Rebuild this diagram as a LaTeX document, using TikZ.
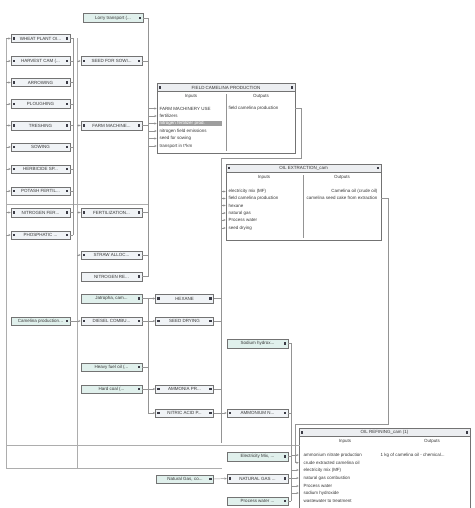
\documentclass[tikz,border=0pt]{standalone}
\usepackage{fontspec}
\setmainfont{Liberation Sans}
\usetikzlibrary{arrows.meta}
\definecolor{procfill}{RGB}{240,243,246}
\definecolor{greenfill}{RGB}{224,240,236}
\definecolor{hdrfill}{RGB}{236,238,241}
\definecolor{iconc}{RGB}{60,60,70}
\begin{document}
\begin{tikzpicture}[x=1pt,y=-1pt,
  every node/.style={font=\fontsize{4.5}{5}\selectfont, text=black!78},
  ln/.style={draw=black!42, line width=0.45pt},
  gridln/.style={draw=black!32, line width=0.8pt},
  arr/.style={ln, -{Stealth[length=2.4pt,width=2.2pt]}},
  box/.style={draw=black!55, line width=0.5pt, minimum height=8.5pt, inner sep=0pt, fill=procfill},
  iconsLR/.style={path picture={
     \fill[iconc] ([xshift=1.6pt,yshift=-1.35pt]path picture bounding box.west) rectangle ([xshift=4.3pt,yshift=1.35pt]path picture bounding box.west);
     \fill[iconc] ([xshift=-1.6pt,yshift=-1.35pt]path picture bounding box.east) rectangle ([xshift=-4.3pt,yshift=1.35pt]path picture bounding box.east);}},
  iconR/.style={path picture={
     \fill[iconc] ([xshift=-1.6pt,yshift=-1.35pt]path picture bounding box.east) rectangle ([xshift=-4.3pt,yshift=1.35pt]path picture bounding box.east);}},
  proc/.style={box, iconsLR, minimum width=#1}, proc/.default=59,
  gbox/.style={box, fill=greenfill, iconR, minimum width=#1}, gbox/.default=59,
  tbl/.style={draw=black!55, fill=white, line width=0.5pt, inner sep=0pt},
  rowin/.style={anchor=west, inner sep=0.3pt},
  rowout/.style={anchor=east, inner sep=0.3pt},
]
\useasboundingbox (0,0) rectangle (474,508);
\clip (0,0) rectangle (474,508);

% ---------- left column ----------
\node[proc] (wheat) at (40.5,38.5) {WHEAT PLANT OI...};
\node[proc] (harvest) at (40.5,61) {HARVEST CAM (...};
\node[proc] (harrow) at (40.5,82.5) {ARROWING};
\node[proc] (plough) at (40.5,104) {PLOUGHING};
\node[proc] (thresh) at (40.5,125.5) {TRESHING};
\node[proc] (sowing) at (40.5,147) {SOWING};
\node[proc] (herbi) at (40.5,169) {HERBICIDE SP...};
\node[proc] (potash) at (40.5,191) {POTASH FERTIL...};
\node[proc] (nitfer) at (40.5,212.5) {NITROGEN FER...};
\node[proc] (phosph) at (40.5,235) {PHOSPHATIC ...};
\node[gbox] (camprod) at (40.5,321) {Camelina production...};

% ---------- middle column ----------
\node[gbox=60] (lorry) at (113,18) {Lorry transport (...};
\node[proc=61] (seed) at (111.5,61) {SEED FOR SOWI...};
\node[proc=61] (farm) at (111.5,125.5) {FARM MACHINE...};
\node[proc=61] (fert) at (111.5,212.5) {FERTILIZATION...};
\node[proc=61] (straw) at (111.5,255) {STRAW ALLOC...};
\node[box,iconR,minimum width=61] (nitre) at (111.5,276.5) {NITROGEN RE...};
\node[gbox=61] (jatro) at (111.5,298.5) {Jatropha, cam...};
\node[proc=61] (diesel) at (111.5,321) {DIESEL COMBU...};
\node[gbox=61] (heavy) at (111.5,367) {Heavy fuel oil (...};
\node[gbox=61] (coal) at (111.5,389) {Hard coal (...};

% ---------- third column ----------
\node[proc=58] (hexane) at (184.5,298.5) {HEXANE};
\node[proc=58] (sdry) at (184.5,321) {SEED DRYING};
\node[proc=58] (ammpr) at (184.5,389) {AMMONIA PR...};
\node[proc=58] (nitric) at (184.5,413) {NITRIC ACID P...};
\node[gbox=57] (ngco) at (185,479) {Natural Gas, co...};

% ---------- fourth column ----------
\node[gbox=61] (naoh) at (257.5,343.5) {Sodium hydrox...};
\node[proc=61] (ammon) at (257.5,413) {AMMONIUM N...};
\node[gbox=61] (elec) at (257.5,456.5) {Electricity Mix, ...};
\node[proc=61] (ngas) at (257.5,478.5) {NATURAL GAS ...};
\node[gbox=61] (pwater) at (257.5,501) {Process water ...};

% ---------- FIELD CAMELINA PRODUCTION ----------
\node[tbl, minimum width=138, minimum height=70] (field) at (226,118) {};
\node[box, fill=hdrfill, iconsLR, minimum width=138] (fieldh) at (226,87.5) {FIELD CAMELINA PRODUCTION};
\node (fieldin) at (191,96.5) {Inputs};
\node (fieldout) at (261,96.5) {Outputs};
\draw[ln] (226,94.5) -- (226,151);
\node[rowin] (fi1) at (159,108.5) {FARM MACHINERY USE};
\node[rowin] (fi2) at (159,116) {fertilizers};
\node[rowin, fill=black!38, text=white, text width=62, align=left] (fi3) at (159,123.5) {nitrogen fertilizer prod.};
\node[rowin] (fi4) at (159,131) {nitrogen field emissions};
\node[rowin] (fi5) at (159,138.5) {seed for sowing};
\node[rowin] (fi6) at (159,146) {transport in t*km};
\node[rowin] (fo1) at (228,108.5) {field camelina production};

% ---------- OIL EXTRACTION ----------
\node[tbl, minimum width=155, minimum height=76] (extr) at (303.5,202) {};
\node[box, fill=hdrfill, iconsLR, minimum width=155] (extrh) at (303.5,168) {OIL EXTRACTION\_cam};
\node (extrin) at (264,177.5) {Inputs};
\node (extrout) at (342,177.5) {Outputs};
\draw[ln] (303,175) -- (303,238);
\node[rowin] (ei1) at (228,191.5) {electricity mix (MF)};
\node[rowin] (ei2) at (228,198.5) {field camelina production};
\node[rowin] (ei3) at (228,205.5) {hexane};
\node[rowin] (ei4) at (228,213) {natural gas};
\node[rowin] (ei5) at (228,220) {Process water};
\node[rowin] (ei6) at (228,228) {seed drying};
\node[rowout] (eo1) at (378,191) {Camelina oil (crude oil)};
\node[rowout] (eo2) at (378,198) {camelina seed cake from extraction};

% ---------- OIL REFINING ----------
\node[tbl, minimum width=171, minimum height=88] (refin) at (384.5,472) {};
\node[box, fill=hdrfill, iconsLR, minimum width=171] (refinh) at (384.5,432.2) {OIL REFINING\_cam (1)};
\node (refinin) at (345,441) {Inputs};
\node (refinout) at (432,441) {Outputs};
\node[rowin] (ri1) at (303,455) {ammonium nitrate production};
\node[rowin] (ri2) at (303,462.7) {crude extracted camelina oil};
\node[rowin] (ri3) at (303,470) {electricity mix (MF)};
\node[rowin] (ri4) at (303,478) {natural gas combustion};
\node[rowin] (ri5) at (303,486) {Process water};
\node[rowin] (ri6) at (303,493) {sodium hydroxide};
\node[rowin] (ri7) at (303,501) {wastewater to treatment};
\node[rowin] (ro1) at (380,455) {1 kg of camelina oil - chemical...};

% ---------- grid ----------
\coordinate (g6) at (6,0);
\coordinate (b73) at (73,0);
\coordinate (g77) at (77,0);
\coordinate (b148) at (148,0);
\coordinate (b221) at (221,0);
\coordinate (b291) at (291,0);
\coordinate (b295) at (295,0);
\draw[gridln] (g6 |- wheat.west) -- (6,468) -- (222,468);
\draw[gridln] (g77 |- wheat.east) -- (77,468);
\draw[gridln] (6,204) -- (148,204);
\draw[gridln] (6,445) -- (300,445);

% ---------- left column connectors ----------
\foreach \n in {wheat,harvest,harrow,plough,thresh,sowing,herbi,potash,nitfer,phosph}{
  \draw[arr] (g6 |- \n.west) -- (\n.west);
  \draw[ln] (\n.east) -- (b73 |- \n.east);
}
\draw[ln] (b73 |- wheat.east) -- (b73 |- phosph.east);
\foreach \n in {seed,farm,fert,straw}{
  \draw[arr] (g77 |- \n.west) -- (\n.west);
}
\draw[arr] (camprod.east) -- (diesel.west);

% ---------- bus to field inputs ----------
\draw[ln] (lorry.east) -| (b148 |- nitre.east) -- (nitre.east);
\foreach \n in {seed,farm,fert,straw}{
  \draw[ln] (\n.east) -- (b148 |- \n.east);
}
\foreach \i in {1,...,6}{
  \draw[arr] (b148 |- fi\i.west) -- (field.west |- fi\i.west);
}

% ---------- lower middle bus ----------
\draw[ln] (b148 |- jatro.east) -- (b148 |- nitric.west);
\foreach \n in {jatro,diesel,heavy,coal}{
  \draw[ln] (\n.east) -- (b148 |- \n.east);
}
\foreach \n in {hexane,sdry,ammpr,nitric}{
  \draw[arr] (b148 |- \n.west) -- (\n.west);
}

% ---------- bus to extraction inputs ----------
\draw[ln] (field.east |- fo1) -- (301,108.5) -- (301,158) -- (b221 |- 0,158) -- (221,443);
\foreach \n in {hexane,sdry,ammpr}{
  \draw[ln] (\n.east) -- (b221 |- \n.east);
}
\foreach \i in {1,...,6}{
  \draw[arr] (b221 |- ei\i.west) -- (extr.west |- ei\i.west);
}
\draw[arr] (nitric.east) -- (ammon.west);
\draw[arr] (ngco.east) -- (ngas.west);

% ---------- to refining ----------
\draw[ln] (extr.east |- eo2) -- (388,198) -- (388,424) -- (b295 |- 0,424) -- (b295 |- ri2);
\draw[arr] (b295 |- ri2) -- (refin.west |- ri2);
\draw[ln] (naoh.east) -- (b291 |- naoh.east) -- (b291 |- pwater.east);
\foreach \n in {ammon,elec,ngas,pwater}{
  \draw[ln] (\n.east) -- (b291 |- \n.east);
}
\foreach \i in {1,3,4,5,6}{
  \draw[arr] (b291 |- ri\i.west) -- (refin.west |- ri\i.west);
}
\end{tikzpicture}
\end{document}
